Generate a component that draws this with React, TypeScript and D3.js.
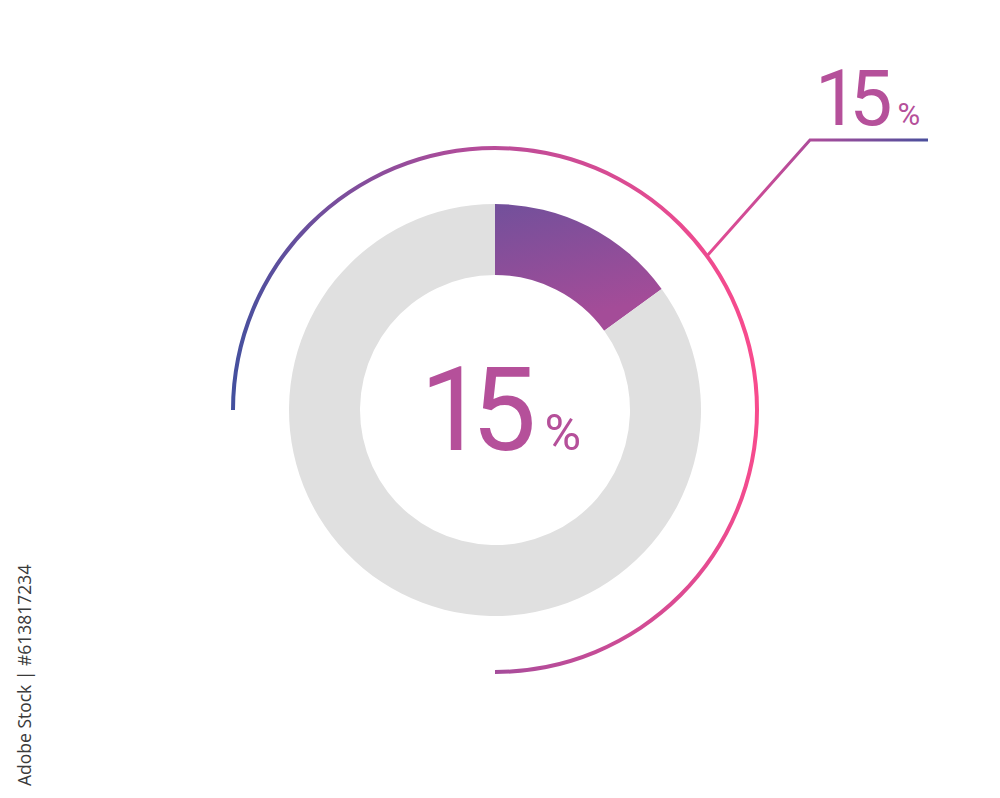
import React from 'react';
import * as d3 from 'd3';

// chart values
const percentValue = 15;
const slices = [
  { key: 'value', amount: 15 },
  { key: 'rest', amount: 85 },
];
const labelNumber = '15';
const labelUnit = '%';
const watermark = 'Adobe Stock | #613817234';

const W = 1000;
const H = 798;
const cx = 495;
const cy = 410;

const App: React.FC = () => {
  const pie = d3.pie<{ key: string; amount: number }>()
    .value(d => d.amount)
    .sort(null);
  const arcs = pie(slices);

  const donut = d3.arc<d3.PieArcDatum<{ key: string; amount: number }>>()
    .innerRadius(135)
    .outerRadius(206);

  // outer decorative ring: from 9 o'clock clockwise to 6 o'clock
  const ringR = 262;
  const ring = d3.arc()({
    innerRadius: ringR - 2,
    outerRadius: ringR + 2,
    startAngle: -Math.PI / 2,
    endAngle: Math.PI,
  }) || '';

  // leader line from the ring to the top-right label
  const angle = d3.scaleLinear().domain([0, 100]).range([0, Math.PI * 2]);
  const leadAngle = angle(percentValue);
  const p0: [number, number] = [cx + ringR * Math.sin(leadAngle), cy - ringR * Math.cos(leadAngle)];
  const p1: [number, number] = [810, 140];
  const p2: [number, number] = [928, 140];
  const leader = d3.line()([p0, p1, p2]) || '';

  const font = "Roboto, sans-serif";

  return (
    <svg width={W} height={H} viewBox={`0 0 ${W} ${H}`} style={{ display: 'block', margin: -8 }}>
      <defs>
        <linearGradient id="ringGrad" gradientUnits="userSpaceOnUse" x1={-ringR} y1={0} x2={ringR} y2={-60}>
          <stop offset="0%" stopColor="#43509e" />
          <stop offset="50%" stopColor="#b24c9a" />
          <stop offset="100%" stopColor="#f94b8d" />
        </linearGradient>
        <linearGradient id="leadGrad" gradientUnits="userSpaceOnUse" x1={p0[0]} y1={0} x2={p2[0]} y2={0}>
          <stop offset="0%" stopColor="#e64b92" />
          <stop offset="45%" stopColor="#b04c9a" />
          <stop offset="100%" stopColor="#4a4f9c" />
        </linearGradient>
        <linearGradient id="sliceGrad" gradientUnits="userSpaceOnUse" x1={0} y1={-206} x2={30} y2={-80}>
          <stop offset="0%" stopColor="#72509b" />
          <stop offset="100%" stopColor="#a44c98" />
        </linearGradient>
      </defs>
      <rect width={W} height={H} fill="#ffffff" />
      <g transform={`translate(${cx},${cy})`}>
        {arcs.map(a => (
          <path key={a.data.key} d={donut(a) || ''} fill={a.data.key === 'value' ? 'url(#sliceGrad)' : '#e0e0e0'} />
        ))}
        <path d={ring} fill="url(#ringGrad)" />
      </g>
      <path d={leader} fill="none" stroke="url(#leadGrad)" strokeWidth={3} />

      <text x={420} y={450} fontFamily={font} fontWeight={400} fill="#b5509a">
        <tspan fontSize={116} letterSpacing={-14}>{labelNumber}</tspan>
        <tspan fontSize={50} dx={22}>{labelUnit}</tspan>
      </text>
      <text x={815} y={125} fontFamily={font} fontWeight={400} fill="#b5509a">
        <tspan fontSize={77} letterSpacing={-9}>{labelNumber}</tspan>
        <tspan fontSize={31} dx={14}>{labelUnit}</tspan>
      </text>

      <text
        transform="translate(31,786) rotate(-90)"
        fontFamily="'Open Sans', sans-serif"
        fontSize={17.5}
        fill="#3a3a3a"
      >
        {watermark}
      </text>
    </svg>
  );
};

export default App;
